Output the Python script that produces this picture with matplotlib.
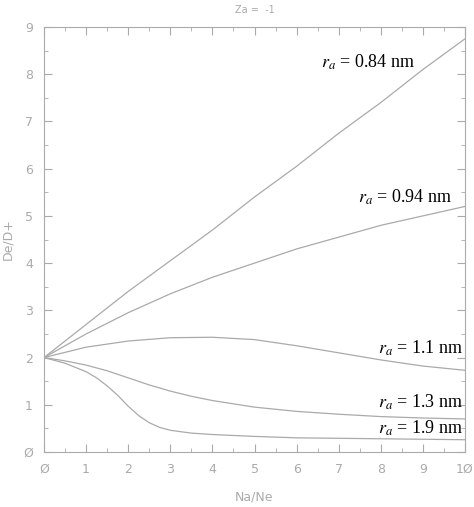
import matplotlib
matplotlib.use("Agg")
import matplotlib.pyplot as plt
from matplotlib.ticker import MultipleLocator, FuncFormatter

plt.rcParams['mathtext.fontset'] = 'stix'
x = [0, 1, 2, 3, 4, 5, 6, 7, 8, 9, 10]
y084 = [2, 2.7, 3.4, 4.05, 4.7, 5.4, 6.05, 6.75, 7.4, 8.1, 8.75]
y094 = [2, 2.5, 2.95, 3.35, 3.7, 4.0, 4.3, 4.55, 4.8, 5.0, 5.2]
y11 = [2, 2.22, 2.35, 2.42, 2.43, 2.38, 2.25, 2.1, 1.95, 1.82, 1.73]
x13 = [0, 0.5, 1, 1.5, 2, 2.5, 3, 3.5, 4, 5, 6, 7, 8, 9, 10]
y13 = [2, 1.93, 1.84, 1.72, 1.57, 1.42, 1.29, 1.18, 1.09, 0.95, 0.86, 0.8, 0.75, 0.72, 0.7]
x19 = [0, 0.5, 1, 1.25, 1.5, 1.75, 2, 2.25, 2.5, 2.75, 3, 3.5, 4, 5, 6, 7, 8, 9, 10]
y19 = [2, 1.88, 1.7, 1.57, 1.4, 1.2, 0.97, 0.77, 0.62, 0.52, 0.46, 0.4, 0.37, 0.33, 0.3, 0.29, 0.28, 0.27, 0.26]
labels = ["0.84", "0.94", "1.1", "1.3", "1.9"]
label_pos = [(8.8, 8.25), (9.7, 5.4), (9.95, 2.2), (9.95, 1.05), (9.95, 0.5)]

fig = plt.figure(figsize=(4.74, 5.07), dpi=100)
ax = fig.add_axes([44/474, 55/507, 421/474, 425/507])
gc = '#aaaaaa'
for xs, ys in [(x, y084), (x, y094), (x, y11), (x13, y13), (x19, y19)]:
    ax.plot(xs, ys, color='#aaaaaa', lw=0.9)
for lab, (px, py) in zip(labels, label_pos):
    ax.text(px, py, r'$r_a$ = ' + lab + ' nm', ha='right', va='center',
            fontsize=13, family='Liberation Serif')
ax.set_xlim(0, 10)
ax.set_ylim(0, 9)
ax.xaxis.set_major_locator(MultipleLocator(1))
ax.xaxis.set_minor_locator(MultipleLocator(0.5))
ax.yaxis.set_major_locator(MultipleLocator(1))
ax.yaxis.set_minor_locator(MultipleLocator(0.5))
fmt = FuncFormatter(lambda v, p: f"{v:.0f}".replace('0', 'Ø'))
ax.xaxis.set_major_formatter(fmt)
ax.yaxis.set_major_formatter(fmt)
ax.tick_params(which='both', direction='in', top=True, right=True, color=gc,
               labelcolor=gc, labelsize=9, pad=8)
ax.tick_params(which='major', length=6)
ax.tick_params(which='minor', length=3)
for s in ax.spines.values():
    s.set_color(gc)
ax.set_xlabel('Na/Ne', color=gc, fontsize=9, labelpad=10)
ax.set_ylabel('De/D+', color=gc, fontsize=9, labelpad=6)
ax.set_title('Za =  -1', color=gc, fontsize=7, pad=10)
fig.savefig('out.png', dpi=100)
